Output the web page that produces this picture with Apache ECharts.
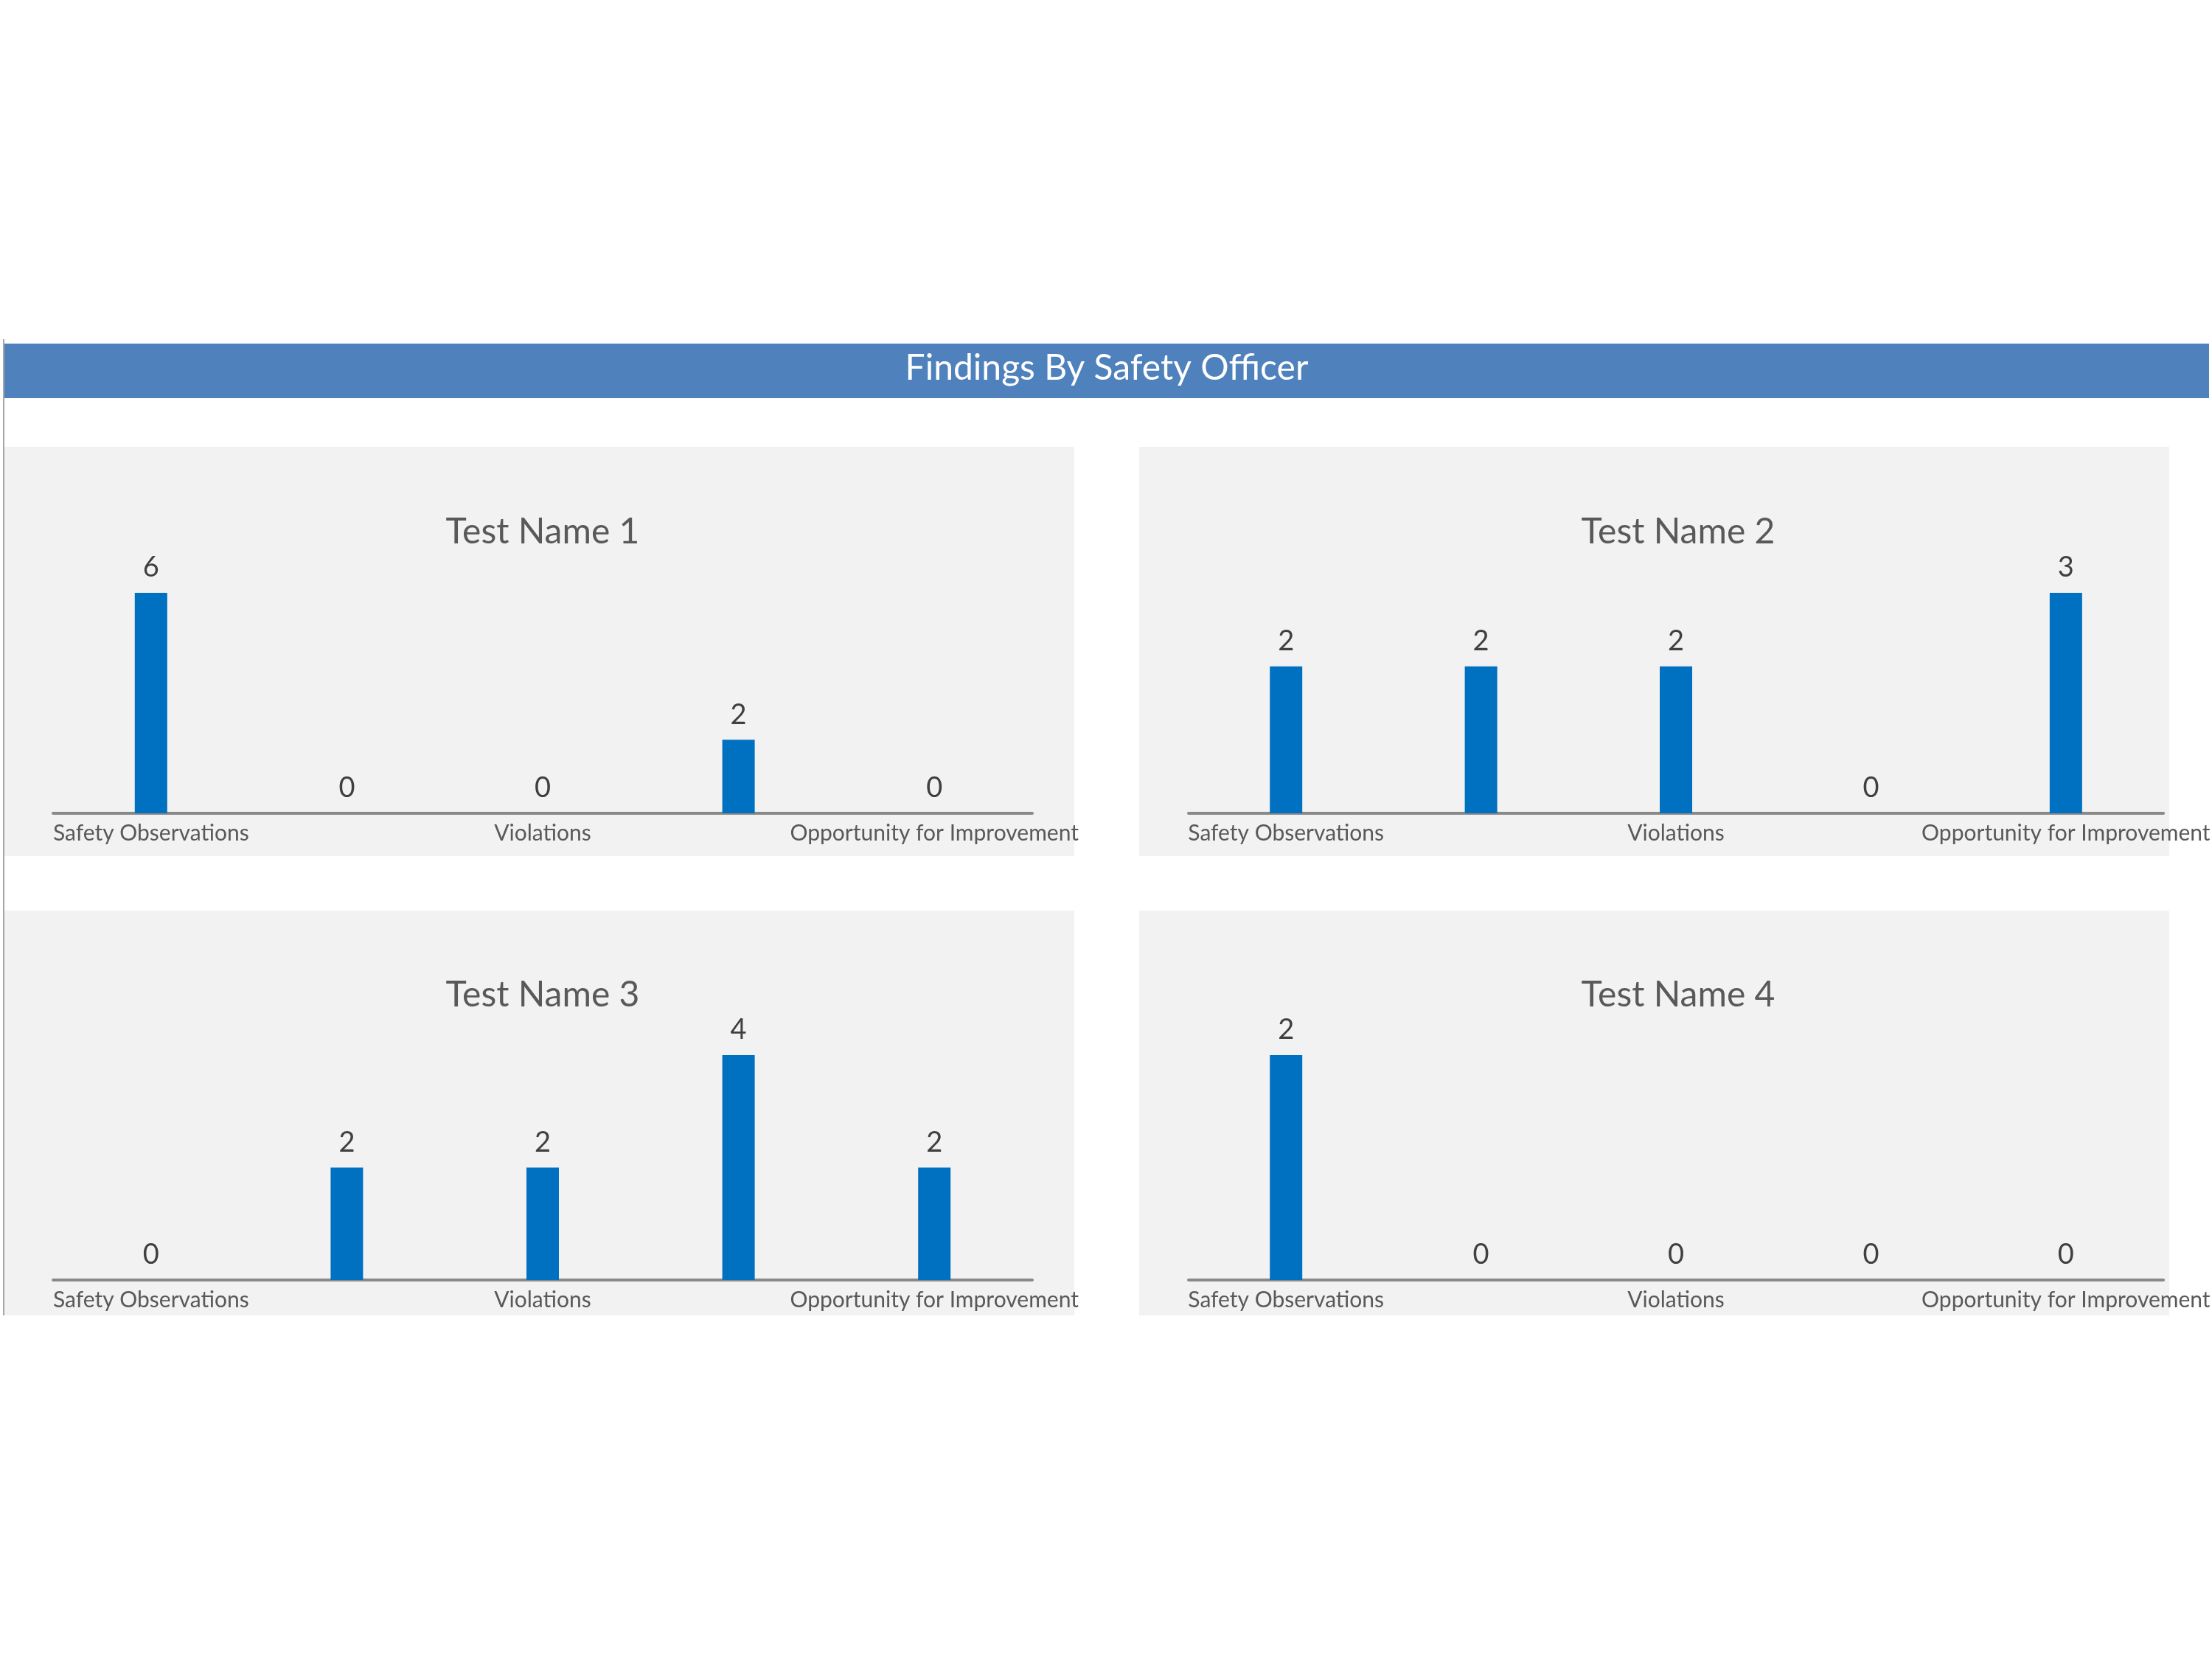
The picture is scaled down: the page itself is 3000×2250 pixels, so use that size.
<!DOCTYPE html>
<html>
<head>
<meta charset="utf-8">
<title>Findings By Safety Officer</title>
<script src="https://cdn.jsdelivr.net/npm/echarts@6/dist/echarts.min.js"></script>
<style>
  html, body { margin: 0; padding: 0; background: #ffffff; }
  #main { width: 3000px; height: 2250px; }
</style>
</head>
<body>
<div id="main"></div>
<script>
// categories shown on every panel (the 2nd and 4th have no visible label)
var categories = ["Safety Observations", "", "Violations", "", "Opportunity for Improvement"];
var officers = ["Test Name 1", "Test Name 2", "Test Name 3", "Test Name 4"];
var name1 = [6, 0, 0, 2, 0];
var name2 = [2, 2, 2, 0, 3];
var name3 = [0, 2, 2, 4, 2];
var name4 = [2, 0, 0, 0, 0];
var findings = [name1, name2, name3, name4];

var FONT = "Lato, 'Open Sans', sans-serif";

// panel boxes [x, y, w, h] and plot areas [left, top, width, height]
var panels = [
  [6, 606, 1451, 555],
  [1545, 606, 1397, 555],
  [6, 1235, 1451, 549],
  [1545, 1235, 1397, 549]
];
var plots = [
  [72, 804, 1328, 299],
  [1612, 804, 1328, 299],
  [72, 1431, 1328, 305],
  [1612, 1431, 1328, 305]
];
var titleY = [722, 722, 1350, 1350];

var chart = echarts.init(document.getElementById("main"), null, { renderer: "canvas" });

var graphic = [
  { type: "rect", shape: { x: 6, y: 466, width: 2990, height: 74 }, style: { fill: "#4f81bd" }, z: -10 },
  { type: "line", shape: { x1: 5, y1: 460, x2: 5, y2: 1784 }, style: { stroke: "#a6a6a6", lineWidth: 2 }, z: -9 },
  {
    type: "text", x: 1501, y: 500, z: 5,
    style: {
      text: "Findings By Safety Officer", fill: "#ffffff",
      font: "48px " + FONT, textAlign: "center", textVerticalAlign: "middle"
    }
  }
];

var grids = [], xAxes = [], yAxes = [], series = [];
for (var i = 0; i < 4; i++) {
  var p = panels[i], g = plots[i];
  graphic.push({ type: "rect", shape: { x: p[0], y: p[1], width: p[2], height: p[3] }, style: { fill: "#f2f2f2" }, z: -8 });
  graphic.push({
    type: "text", x: g[0] + g[2] / 2, y: titleY[i], z: 5,
    style: {
      text: officers[i], fill: "#595959",
      font: "48px " + FONT, textAlign: "center", textVerticalAlign: "middle"
    }
  });

  grids.push({ left: g[0], top: g[1], width: g[2], height: g[3], containLabel: false });
  xAxes.push({
    type: "category",
    gridIndex: i,
    data: categories,
    axisLine: { lineStyle: { color: "#898989", width: 4 } },
    axisTick: { show: false },
    axisLabel: { interval: 0, color: "#595959", fontSize: 30, fontFamily: FONT, margin: 12 }
  });
  yAxes.push({ type: "value", gridIndex: i, min: 0, max: "dataMax", show: false, splitLine: { show: false } });
  series.push({
    name: officers[i],
    type: "bar",
    xAxisIndex: i,
    yAxisIndex: i,
    data: findings[i],
    barWidth: 44,
    itemStyle: { color: "#0070c0" },
    label: { show: true, position: "top", distance: 15, color: "#404040", fontSize: 38, fontFamily: FONT }
  });
}

chart.setOption({
  backgroundColor: "#ffffff",
  animation: false,
  graphic: graphic,
  grid: grids,
  xAxis: xAxes,
  yAxis: yAxes,
  series: series
});
</script>
</body>
</html>
